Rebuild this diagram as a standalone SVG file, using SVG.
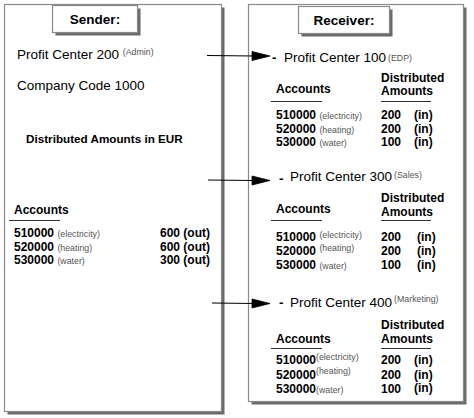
<svg xmlns="http://www.w3.org/2000/svg" width="474" height="418" viewBox="0 0 474 418">
<style>
.shadow{fill:#6a6a6a}
.box{fill:#fff;stroke:#8a8a8a;stroke-width:1.2}
.hdr{font-family:"Liberation Sans",Arial,sans-serif;font-weight:bold;font-size:13.5px;fill:#000;text-anchor:middle}
.big{font-family:"Liberation Sans",Arial,sans-serif;font-size:13.5px;fill:#000}
.dash{font-family:"Liberation Sans",Arial,sans-serif;font-size:13.5px;font-weight:bold;fill:#000}
.b{font-family:"Liberation Sans",Arial,sans-serif;font-weight:bold;font-size:12px;fill:#000}
.sm{font-family:"Liberation Sans",Arial,sans-serif;font-weight:normal;font-size:8.8px;fill:#555}
.ul{stroke:#333;stroke-width:1}
.conn{stroke:#000;stroke-width:1.2;fill:none}
.head{fill:#000;stroke:#000;stroke-width:0.8;stroke-linejoin:miter}
</style>
<g id="sender">
<rect class="shadow" x="7.5" y="7.5" width="217" height="407"/>
<rect class="box" x="4.5" y="4.5" width="217" height="407"/>
<rect class="shadow" x="55.5" y="8.5" width="85" height="27"/>
<rect class="box" x="52.5" y="5.5" width="85" height="27"/>
<text class="hdr" x="95" y="24">Sender:</text>
<text class="big" x="17" y="59">Profit Center 200 <tspan class="sm" dy="-4">(Admin)</tspan></text>
<text class="big" x="17" y="90">Company Code 1000</text>
<text class="b" x="26" y="143" style="font-size:11.7px">Distributed Amounts in EUR</text>
<text class="b" x="14" y="214">Accounts</text>
<line class="ul" x1="9" y1="220.5" x2="60" y2="220.5"/>
<text class="b" x="14" y="237">510000 <tspan class="sm">(electricity)</tspan></text>
<text class="b" x="14" y="251">520000 <tspan class="sm">(heating)</tspan></text>
<text class="b" x="14" y="264">530000 <tspan class="sm">(water)</tspan></text>
<text class="b" x="160" y="237">600 (out)</text>
<text class="b" x="160" y="251">600 (out)</text>
<text class="b" x="160" y="264">300 (out)</text>
</g>
<g id="receiver">
<rect class="shadow" x="251.5" y="7.5" width="215" height="397"/>
<rect class="box" x="248.5" y="4.5" width="215" height="397"/>
<rect class="shadow" x="301.5" y="9.5" width="91" height="27"/>
<rect class="box" x="298.5" y="6.5" width="91" height="27"/>
<text class="hdr" x="344" y="24.5">Receiver:</text>
</g>
<g id="pc100">
<text class="dash" x="272" y="62">-</text>
<text class="big" x="284" y="62">Profit Center 100<tspan class="sm" dx="2" dy="-1">(EDP)</tspan></text>
<text class="b" x="381" y="82">Distributed</text>
<text class="b" x="381" y="95">Amounts</text>
<text class="b" x="276" y="93">Accounts</text>
<line class="ul" x1="271" y1="101.5" x2="322" y2="101.5"/>
<line class="ul" x1="381" y1="101.5" x2="431" y2="101.5"/>
<text class="b" x="276" y="119">510000 <tspan class="sm">(electricity)</tspan></text>
<text class="b" x="276" y="133">520000 <tspan class="sm">(heating)</tspan></text>
<text class="b" x="276" y="146">530000 <tspan class="sm">(water)</tspan></text>
<text class="b" x="381" y="119">200</text><text class="b" x="414" y="119">(in)</text>
<text class="b" x="381" y="133">200</text><text class="b" x="414" y="133">(in)</text>
<text class="b" x="381" y="146">100</text><text class="b" x="414" y="146">(in)</text>
</g>
<g id="pc300">
<text class="dash" x="279" y="183">-</text>
<text class="big" x="290" y="181">Profit Center 300<tspan class="sm" dx="2" dy="-3">(Sales)</tspan></text>
<text class="b" x="381" y="202">Distributed</text>
<text class="b" x="381" y="216">Amounts</text>
<text class="b" x="276" y="213">Accounts</text>
<line class="ul" x1="271" y1="220.5" x2="322" y2="220.5"/>
<line class="ul" x1="381" y1="220.5" x2="431" y2="220.5"/>
<text class="b" x="276" y="241">510000 <tspan class="sm" dy="-3">(electricity)</tspan></text>
<text class="b" x="276" y="255">520000 <tspan class="sm" dy="-4">(heating)</tspan></text>
<text class="b" x="276" y="269">530000 <tspan class="sm">(water)</tspan></text>
<text class="b" x="381" y="241">200</text><text class="b" x="417" y="241">(in)</text>
<text class="b" x="381" y="255">200</text><text class="b" x="417" y="255">(in)</text>
<text class="b" x="381" y="269">100</text><text class="b" x="417" y="269">(in)</text>
</g>
<g id="pc400">
<text class="dash" x="279" y="307">-</text>
<text class="big" x="290" y="307">Profit Center 400<tspan class="sm" dx="2" dy="-5">(Marketing)</tspan></text>
<text class="b" x="381" y="329">Distributed</text>
<text class="b" x="381" y="343">Amounts</text>
<text class="b" x="276" y="343">Accounts</text>
<line class="ul" x1="271" y1="348.5" x2="322" y2="348.5"/>
<line class="ul" x1="381" y1="348.5" x2="431" y2="348.5"/>
<text class="b" x="276" y="364">510000<tspan class="sm" dy="-4">(electricity)</tspan></text>
<text class="b" x="276" y="379">520000<tspan class="sm" dy="-5">(heating)</tspan></text>
<text class="b" x="276" y="393">530000<tspan class="sm">(water)</tspan></text>
<text class="b" x="381" y="364">200</text><text class="b" x="414" y="364">(in)</text>
<text class="b" x="381" y="379">200</text><text class="b" x="414" y="379">(in)</text>
<text class="b" x="381" y="393">100</text><text class="b" x="414" y="392">(in)</text>
</g>
<g id="connectors">
<line class="conn" x1="207" y1="55.5" x2="255" y2="56"/>
<polygon class="head" points="252,51.5 270,56 252,60.5"/>
<line class="conn" x1="208" y1="180" x2="255" y2="180.5"/>
<polygon class="head" points="252,176 270,180.5 252,185"/>
<line class="conn" x1="212" y1="303" x2="255" y2="303.5"/>
<polygon class="head" points="252,299 270,303.5 252,308"/>
</g>
</svg>
